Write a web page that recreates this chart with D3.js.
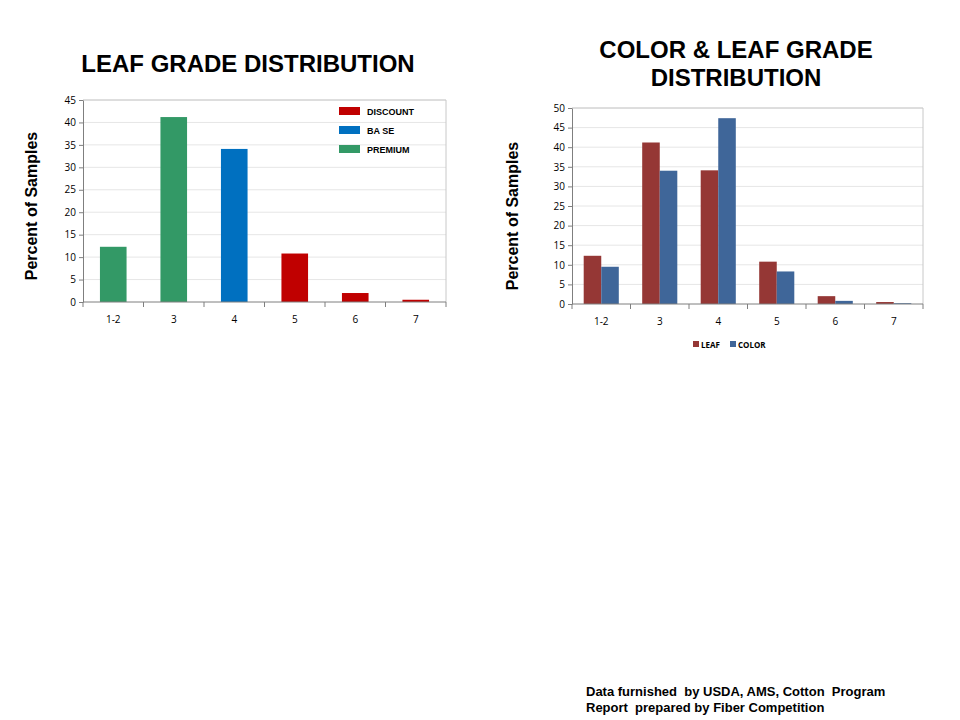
<!DOCTYPE html>
<html><head><meta charset="utf-8">
<script src="https://cdn.jsdelivr.net/npm/d3@7"></script>
<style>body{margin:0;background:#fff}svg{display:block}text{white-space:pre}</style>
</head><body>
<svg id="c" width="960" height="720"></svg>
<script>
const grades = ["1-2","3","4","5","6","7"];
const leafValues = [12.3, 41.2, 34.1, 10.8, 2.0, 0.5];
const colorValues = [9.5, 34.0, 47.4, 8.3, 0.8, 0.2];
const leafClass = ["PREMIUM","PREMIUM","BASE","DISCOUNT","DISCOUNT","DISCOUNT"];
const classNames = ["DISCOUNT","BASE","PREMIUM"];
const classLabels = ["DISCOUNT","BA SE","PREMIUM"];
const classColors = ["#C00000","#0070C0","#339966"];
const seriesNames = ["LEAF","COLOR"];
const seriesColors = ["#953735","#3F6699"];
const leftTicks = [0,5,10,15,20,25,30,35,40,45];
const rightTicks = [0,5,10,15,20,25,30,35,40,45,50];

const svg = d3.select("#c");
const FONT = "'Liberation Sans', Arial, sans-serif";
const TICKFONT = "'Open Sans', 'Liberation Sans', sans-serif";

function frame(g, x, y, w, h, ticks, yMax) {
  const xs = d3.scaleBand().domain(grades).range([0, w]);
  const ys = d3.scaleLinear().domain([0, yMax]).range([h, 0]);
  const gg = g.append("g").attr("transform", `translate(${x},${y})`);
  gg.append("g").selectAll("line").data(ticks.filter(t => t > 0)).join("line")
    .attr("x1", 0).attr("x2", w).attr("y1", d => ys(d)).attr("y2", d => ys(d))
    .attr("stroke", "#e6e6e6").attr("stroke-width", 1);
  gg.append("path").attr("d", `M0,0H${w}V${h}`).attr("fill", "none").attr("stroke", "#c8c8c8");
  const yAxis = gg.append("g").call(d3.axisLeft(ys).tickValues(ticks).tickSize(4).tickSizeOuter(0));
  yAxis.select(".domain").attr("stroke", "#7f7f7f");
  yAxis.selectAll(".tick line").attr("stroke", "#7f7f7f");
  yAxis.selectAll("text").attr("font-family", TICKFONT).attr("font-size", 10).attr("fill", "#000").attr("x", -7);
  return {gg, xs, ys};
}

function xAxis(gg, xs, h, w) {
  const ax = gg.append("g").attr("transform", `translate(0,${h})`);
  ax.append("line").attr("x1", 0).attr("x2", w).attr("stroke", "#7f7f7f");
  const bounds = d3.range(grades.length + 1).map(i => i * xs.step());
  ax.selectAll("line.tk").data(bounds).join("line").attr("class", "tk")
    .attr("x1", d => d).attr("x2", d => d).attr("y1", 0).attr("y2", 5).attr("stroke", "#7f7f7f");
  ax.selectAll("text").data(grades).join("text")
    .attr("x", d => xs(d) + xs.bandwidth() / 2).attr("y", 21)
    .attr("text-anchor", "middle").attr("font-family", TICKFONT).attr("font-size", 10).text(d => d);
}

// LEFT CHART
{
  const x0 = 83, y0 = 100, w = 363, h = 202;
  const {gg, xs, ys} = frame(svg, x0, y0, w, h, leftTicks, 45);
  const cmap = d3.scaleOrdinal().domain(classNames).range(classColors);
  const bw = xs.step() * 0.44;
  gg.append("g").selectAll("rect").data(grades).join("rect")
    .attr("x", (d) => xs(d) + xs.step() / 2 - bw / 2)
    .attr("y", (d, i) => ys(leafValues[i]))
    .attr("width", bw)
    .attr("height", (d, i) => h - ys(leafValues[i]))
    .attr("fill", (d, i) => cmap(leafClass[i]));
  xAxis(gg, xs, h, w);
  const lg = svg.append("g").selectAll("g").data(classNames).join("g")
    .attr("transform", (d, i) => `translate(339,${107 + i * 19})`);
  lg.append("rect").attr("width", 21).attr("height", 8).attr("fill", d => cmap(d));
  lg.append("text").attr("x", 28).attr("y", 7.5).attr("font-family", FONT).attr("font-weight", "bold")
    .attr("font-size", 9).text((d, i) => classLabels[i]);
  svg.append("text").attr("x", 248).attr("y", 72).attr("text-anchor", "middle")
    .attr("font-family", FONT).attr("font-weight", "bold").attr("font-size", 24).text("LEAF GRADE DISTRIBUTION");
  svg.append("text").attr("transform", "translate(37,206) rotate(-90)").attr("text-anchor", "middle")
    .attr("font-family", FONT).attr("font-weight", "bold").attr("font-size", 16).text("Percent of Samples");
}

// RIGHT CHART
{
  const x0 = 572, y0 = 108, w = 351, h = 196;
  const {gg, xs, ys} = frame(svg, x0, y0, w, h, rightTicks, 50);
  const sub = d3.scaleBand().domain(seriesNames).range([0, xs.step() * 0.6]);
  const off = xs.step() * 0.2;
  const data = [leafValues, colorValues];
  seriesNames.forEach((s, si) => {
    gg.append("g").selectAll("rect").data(grades).join("rect")
      .attr("x", d => xs(d) + off + sub(s))
      .attr("y", (d, i) => ys(data[si][i]))
      .attr("width", sub.bandwidth())
      .attr("height", (d, i) => h - ys(data[si][i]))
      .attr("fill", seriesColors[si]);
  });
  xAxis(gg, xs, h, w);
  const lx = [693, 730];
  const lg = svg.append("g").selectAll("g").data(seriesNames).join("g")
    .attr("transform", (d, i) => `translate(${lx[i]},341)`);
  lg.append("rect").attr("width", 6).attr("height", 6).attr("fill", (d, i) => seriesColors[i]);
  lg.append("text").attr("x", 8).attr("y", 6.5).attr("font-family", TICKFONT).attr("font-weight", "bold")
    .attr("font-size", 8).text(d => d);
  svg.append("text").attr("x", 736).attr("y", 58).attr("text-anchor", "middle")
    .attr("font-family", FONT).attr("font-weight", "bold").attr("font-size", 24).text("COLOR & LEAF GRADE");
  svg.append("text").attr("x", 736).attr("y", 86).attr("text-anchor", "middle")
    .attr("font-family", FONT).attr("font-weight", "bold").attr("font-size", 24).text("DISTRIBUTION");
  svg.append("text").attr("transform", "translate(518,216) rotate(-90)").attr("text-anchor", "middle")
    .attr("font-family", FONT).attr("font-weight", "bold").attr("font-size", 16).text("Percent of Samples");
}

svg.append("text").attr("x", 586).attr("y", 696).attr("font-family", FONT).attr("font-weight", "bold")
  .attr("font-size", 13).text("Data furnished  by USDA, AMS, Cotton  Program");
svg.append("text").attr("x", 586).attr("y", 712).attr("font-family", FONT).attr("font-weight", "bold")
  .attr("font-size", 13).text("Report  prepared by Fiber Competition");
</script>
</body></html>
